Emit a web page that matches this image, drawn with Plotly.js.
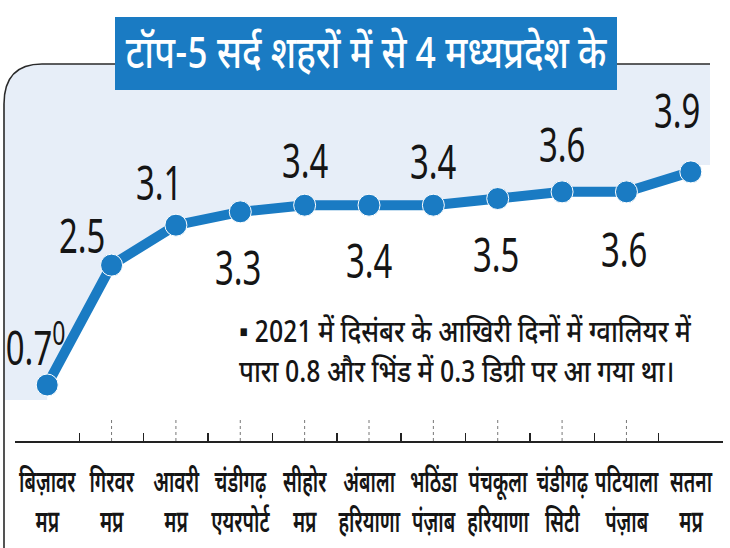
<!DOCTYPE html>
<html>
<head>
<meta charset="utf-8">
<script src="https://cdn.plot.ly/plotly-3.0.1.min.js"></script>
<style>
  html, body { margin: 0; padding: 0; background: #fff; }
  #chart { width: 730px; height: 548px; }
</style>
</head>
<body>
<div id="chart"></div>
<script>
// Coldest cities: name, region and minimum temperature (°C)
const cities  = ['बिज़ावर', 'गिरवर', 'आवरी', 'चंडीगढ़', 'सीहोर', 'अंबाला', 'भठिंडा', 'पंचकूला', 'चंडीगढ़', 'पटियाला', 'सतना'];
const regions = ['मप्र', 'मप्र', 'मप्र', 'एयरपोर्ट', 'मप्र', 'हरियाणा', 'पंज़ाब', 'हरियाणा', 'सिटी', 'पंज़ाब', 'मप्र'];
const temps   = [0.7, 2.5, 3.1, 3.3, 3.4, 3.4, 3.4, 3.5, 3.6, 3.6, 3.9];

const titleText = 'टॉप-5 सर्द शहरों में से 4 मध्यप्रदेश के';
const noteText  = '▪ 2021 में दिसंबर के आखिरी दिनों में ग्वालियर में<br>पारा 0.8 और भिंड में 0.3 डिग्री पर आ गया था।';

// Two-line axis labels (city + region) double as unique category keys
const categories = cities.map((c, i) => c + '<br>' + regions[i]);

// Page geometry
const W = 730, H = 548;
const M = { l: 15, r: 7, t: 64, b: 107 };
const PW = W - M.l - M.r, PH = H - M.t - M.b;
const px = x => (x - M.l) / PW;          // page pixel -> paper x
const py = y => (H - M.b - y) / PH;      // page pixel -> paper y

const BLUE = '#1a7bc3';
const PALE = '#e7eef8';
const NUM_FONT = "'Noto Sans', 'Liberation Sans', sans-serif";
const HI_FONT = "'Noto Sans Devanagari', 'Noto Sans', 'Liberation Sans', sans-serif";

// Value label placement relative to each marker (pixels)
const labelDX = [-12, -30, -17, -2, 0, 0, 0, -2, 0, -2, -14];
const labelDY = [40, 30, 43, -55, 45, -55, 44, -55, 48, -57, 62];

const valueLabels = temps.map((v, i) => ({
  x: categories[i], y: v, xref: 'x', yref: 'y',
  text: i === 0 ? v.toFixed(1) + '<sup>0</sup>' : v.toFixed(1),
  showarrow: false, xshift: labelDX[i], yshift: labelDY[i],
  xanchor: 'center', yanchor: 'middle',
  font: { family: NUM_FONT, size: 47, color: '#151515' }
}));

const note = {
  x: px(237), y: py(354), xref: 'paper', yref: 'paper',
  xanchor: 'left', yanchor: 'middle', align: 'left',
  text: noteText, showarrow: false,
  font: { family: HI_FONT, size: 31, color: '#151515', weight: 500 }
};

// Short dotted guides rising from the axis at the inner categories
const guides = categories.slice(1, 10).map(c => ({
  type: 'line', xref: 'x', yref: 'paper', x0: c, x1: c, y0: 0, y1: py(419),
  line: { color: '#777', width: 1, dash: 'dot' }, layer: 'above'
}));

const L = px(4), R = px(710), T = py(64), rx = px(42) - px(4), ry = py(64) - py(104);

const shapes = [
  // pale panel behind the curve
  {
    type: 'path', xref: 'paper', yref: 'paper', layer: 'below',
    path: `M ${R},${T} L ${L + rx},${T} Q ${L},${T} ${L},${T - ry} L ${L},${py(400)} L ${px(690)},${py(400)} L ${px(690)},${py(165)} L ${R},${py(165)} Z`,
    fillcolor: PALE, line: { width: 0 }
  },
  // rounded frame line
  {
    type: 'path', xref: 'paper', yref: 'paper', layer: 'above',
    path: `M ${R},${T} L ${L + rx},${T} Q ${L},${T} ${L},${T - ry} L ${L},${py(548)}`,
    line: { color: '#2a2a2a', width: 1.6 }
  },
  // title banner
  {
    type: 'rect', xref: 'paper', yref: 'paper', layer: 'above',
    x0: px(115), x1: px(617), y0: py(90), y1: py(17),
    fillcolor: BLUE, line: { width: 0 }
  },
  ...guides
];

const trace = {
  type: 'scatter', mode: 'lines+markers',
  x: categories, y: temps,
  fill: 'tozeroy', fillcolor: '#ffffff',
  line: { color: BLUE, width: 10 },
  marker: { color: BLUE, size: 22, line: { color: '#ffffff', width: 1 } },
  hoverinfo: 'x+y', cliponaxis: false
};

const layout = {
  width: W, height: H,
  margin: M,
  paper_bgcolor: '#ffffff', plot_bgcolor: 'rgba(0,0,0,0)',
  showlegend: false,
  title: {
    text: titleText, x: 366 / W, xanchor: 'center',
    y: 1 - 53 / H, yanchor: 'middle', yref: 'container',
    font: { family: HI_FONT, size: 44, color: '#ffffff', weight: 500 }
  },
  xaxis: {
    type: 'category', range: [-0.5, categories.length - 0.5],
    showgrid: false, zeroline: false,
    showline: true, linecolor: '#222', linewidth: 2,
    ticks: 'inside', tickson: 'boundaries', ticklen: 8, tickwidth: 1.5, tickcolor: '#222',
    tickangle: 0, ticklabelstandoff: 12,
    tickfont: { family: HI_FONT, size: 31, color: '#151515', weight: 600 },
    fixedrange: true
  },
  yaxis: {
    visible: false, range: [-0.141, 5.52], fixedrange: true,
    showgrid: false, zeroline: false
  },
  shapes: shapes,
  annotations: [...valueLabels, note]
};

// Narrow a text element horizontally about its centre (or left edge)
function condense(el, s, anchor) {
  const b = el.getBBox();
  const cx = anchor === 'left' ? b.x : b.x + b.width / 2;
  const t = el.getAttribute('transform') || '';
  el.setAttribute('transform', `${t} translate(${cx},0) scale(${s},1) translate(${-cx},0)`);
}

Plotly.newPlot('chart', [trace], layout, { displayModeBar: false, staticPlot: true }).then(gd => {
  const ann = gd.querySelectorAll('.annotation-text');
  ann.forEach((el, i) => {
    if (i < temps.length) condense(el, 0.7, 'center');
    else condense(el, Math.min(1, 453 / el.getBBox().width), 'left');
  });
  const ticks = gd.querySelectorAll('.xtick text');
  if (ticks.length) {
    const s = Math.min(1, 57 / ticks[0].getBBox().width);
    ticks.forEach(el => condense(el, s, 'center'));
  }
  const title = gd.querySelector('.gtitle');
  if (title) condense(title, Math.min(1, 482 / title.getBBox().width), 'center');
});
</script>
</body>
</html>
